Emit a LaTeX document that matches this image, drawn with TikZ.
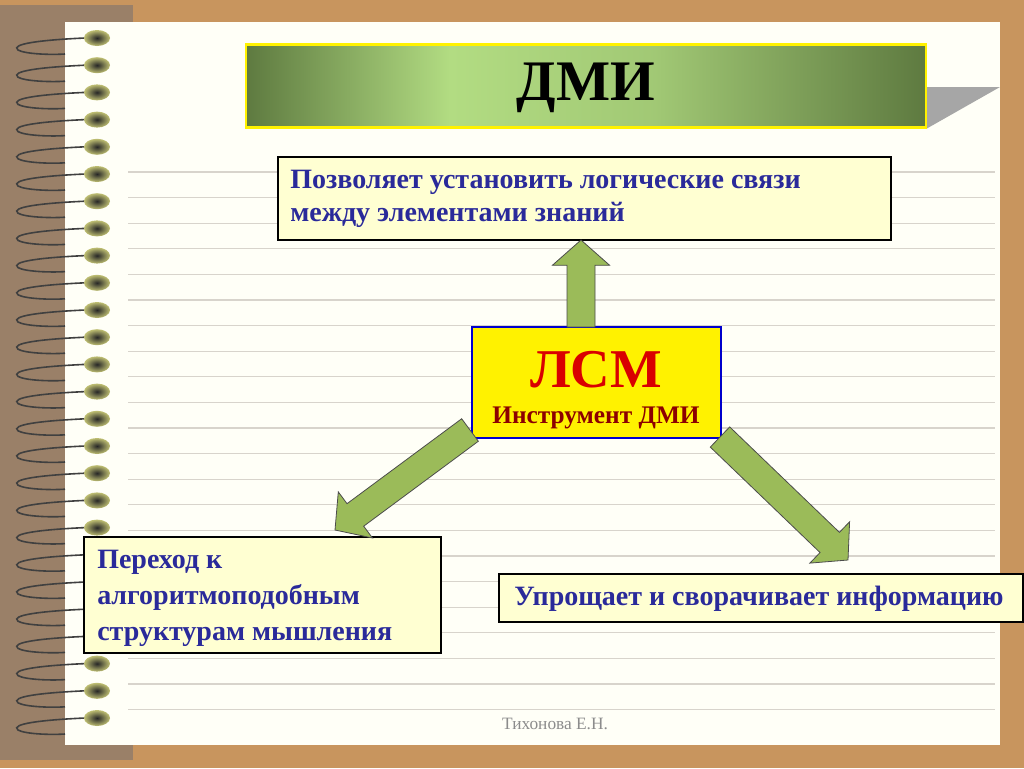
\documentclass[tikz,border=0pt]{standalone}
\usepackage{fontspec}
\setmainfont{Liberation Serif}
\usetikzlibrary{calc}
\definecolor{bg}{HTML}{C8955E}
\definecolor{strip}{HTML}{9A8068}
\definecolor{ruled}{HTML}{D8D4CC}
\definecolor{txtblue}{HTML}{2A2A9A}
\definecolor{boxy}{HTML}{FFFFD2}
\definecolor{agreen}{HTML}{9BBB59}
\definecolor{tdark}{HTML}{5E7A40}
\definecolor{tlight}{HTML}{B2DC82}
\pgfdeclarehorizontalshading{titleshade}{100bp}{color(0bp)=(tdark); color(25bp)=(tdark); color(40bp)=(tlight); color(55bp)=(tlight!80!tdark); color(75bp)=(tdark); color(100bp)=(tdark)}
\tikzset{
  txtbox/.style={draw=black,line width=1.8pt,fill=boxy,inner sep=0},
  btxt/.style={font=\bfseries\fontsize{21}{25}\selectfont,text=txtblue,align=left,anchor=north west,inner sep=0},
  fatarrow/.style={draw=black!70,line width=0.6pt,fill=agreen,line join=miter}
}
\newcommand{\fatarr}[2]{%
  \coordinate (h) at ($(#2)!19pt!(#1)$);
  \path[fatarrow] ($(#1)!10.5pt!90:(#2)$) -- ($(h)!10.5pt!-90:(#1)$) -- ($(h)!21.5pt!-90:(#1)$) -- (#2)
     -- ($(h)!21.5pt!90:(#1)$) -- ($(h)!10.5pt!90:(#1)$) -- ($(#1)!10.5pt!-90:(#2)$) -- cycle;}
\begin{document}
\begin{tikzpicture}[x=0.75pt,y=-0.75pt]
\useasboundingbox (0,0) rectangle (1024,768);
\fill[bg] (0,0) rectangle (1024,768);
\fill[strip] (0,5) rectangle (133,760);
\fill[white!97!yellow] (65,22) rectangle (1000,745);
\foreach \i in {0,...,21} {\draw[ruled,line width=1pt] (128,172+\i*25.6) -- (995,172+\i*25.6);}
% spirals
\foreach \i in {0,...,25} {
  \pgfmathsetmacro\yy{38+\i*27.2}
  \draw[black!75,line width=1.2pt] (85,\yy) .. controls (40,\yy+2) and (10,\yy+6) .. (18,\yy+12) .. controls (25,\yy+16) and (50,\yy+17) .. (65,\yy+16);
  \shade[inner color=black!85,outer color=black!25!olive!40] (97,\yy) ellipse (13 and 8);
}
% title
\fill[black!35] (926,87) -- (1000,87) -- (926,129) -- cycle;
\shade[shading=titleshade] (246,45) rectangle (926,128);
\node[draw=yellow,line width=2pt,minimum width=510pt,minimum height=62pt,inner sep=0] (title) at (586,86) {};
\node[font=\bfseries\fontsize{43}{43}\selectfont] (tt) at (586,88) {ДМИ};
% top box
\node[txtbox,minimum width=460pt,minimum height=62pt] (top) at (584.5,198.5) {};
\node[btxt] (toptxt) at (290,170) {Позволяет установить логические связи\\между элементами знаний};
% center
\node[draw=blue!80!black,line width=1.8pt,fill=yellow,minimum width=187pt,minimum height=83pt,inner sep=0] (lsm) at (596.5,382.5) {};
\node[font=\bfseries\fontsize{41}{41}\selectfont,text=red!85!black] (lsmt) at (596,370) {ЛСМ};
\node[font=\bfseries\fontsize{19}{19}\selectfont,text=red!55!black] (lsmsub) at (596,418) {Инструмент ДМИ};
% left box
\node[txtbox,minimum width=268pt,minimum height=87pt] (left) at (262.5,595) {};
\node[btxt,align=left] (lefttxt) at (97,550) {Переход к\\[2pt]алгоритмоподобным\\[2pt]структурам мышления};
% right box
\node[txtbox,minimum width=393pt,minimum height=36pt] (right) at (761,598) {};
\node[btxt,anchor=center] (righttxt) at (759,599) {Упрощает и сворачивает информацию};
% arrows
\coordinate (u0) at (581,327); \coordinate (u1) at (581,240);
\coordinate (l0) at (470,430); \coordinate (l1) at (335,530);
\coordinate (r0) at (720,437); \coordinate (r1) at (848,560);
\fatarr{u0}{u1}
\fatarr{l0}{l1}
\fatarr{r0}{r1}
\node[text=black!45,font=\fontsize{13}{13}\selectfont] (foot) at (555,724) {Тихонова Е.Н.};
\end{tikzpicture}
\end{document}
